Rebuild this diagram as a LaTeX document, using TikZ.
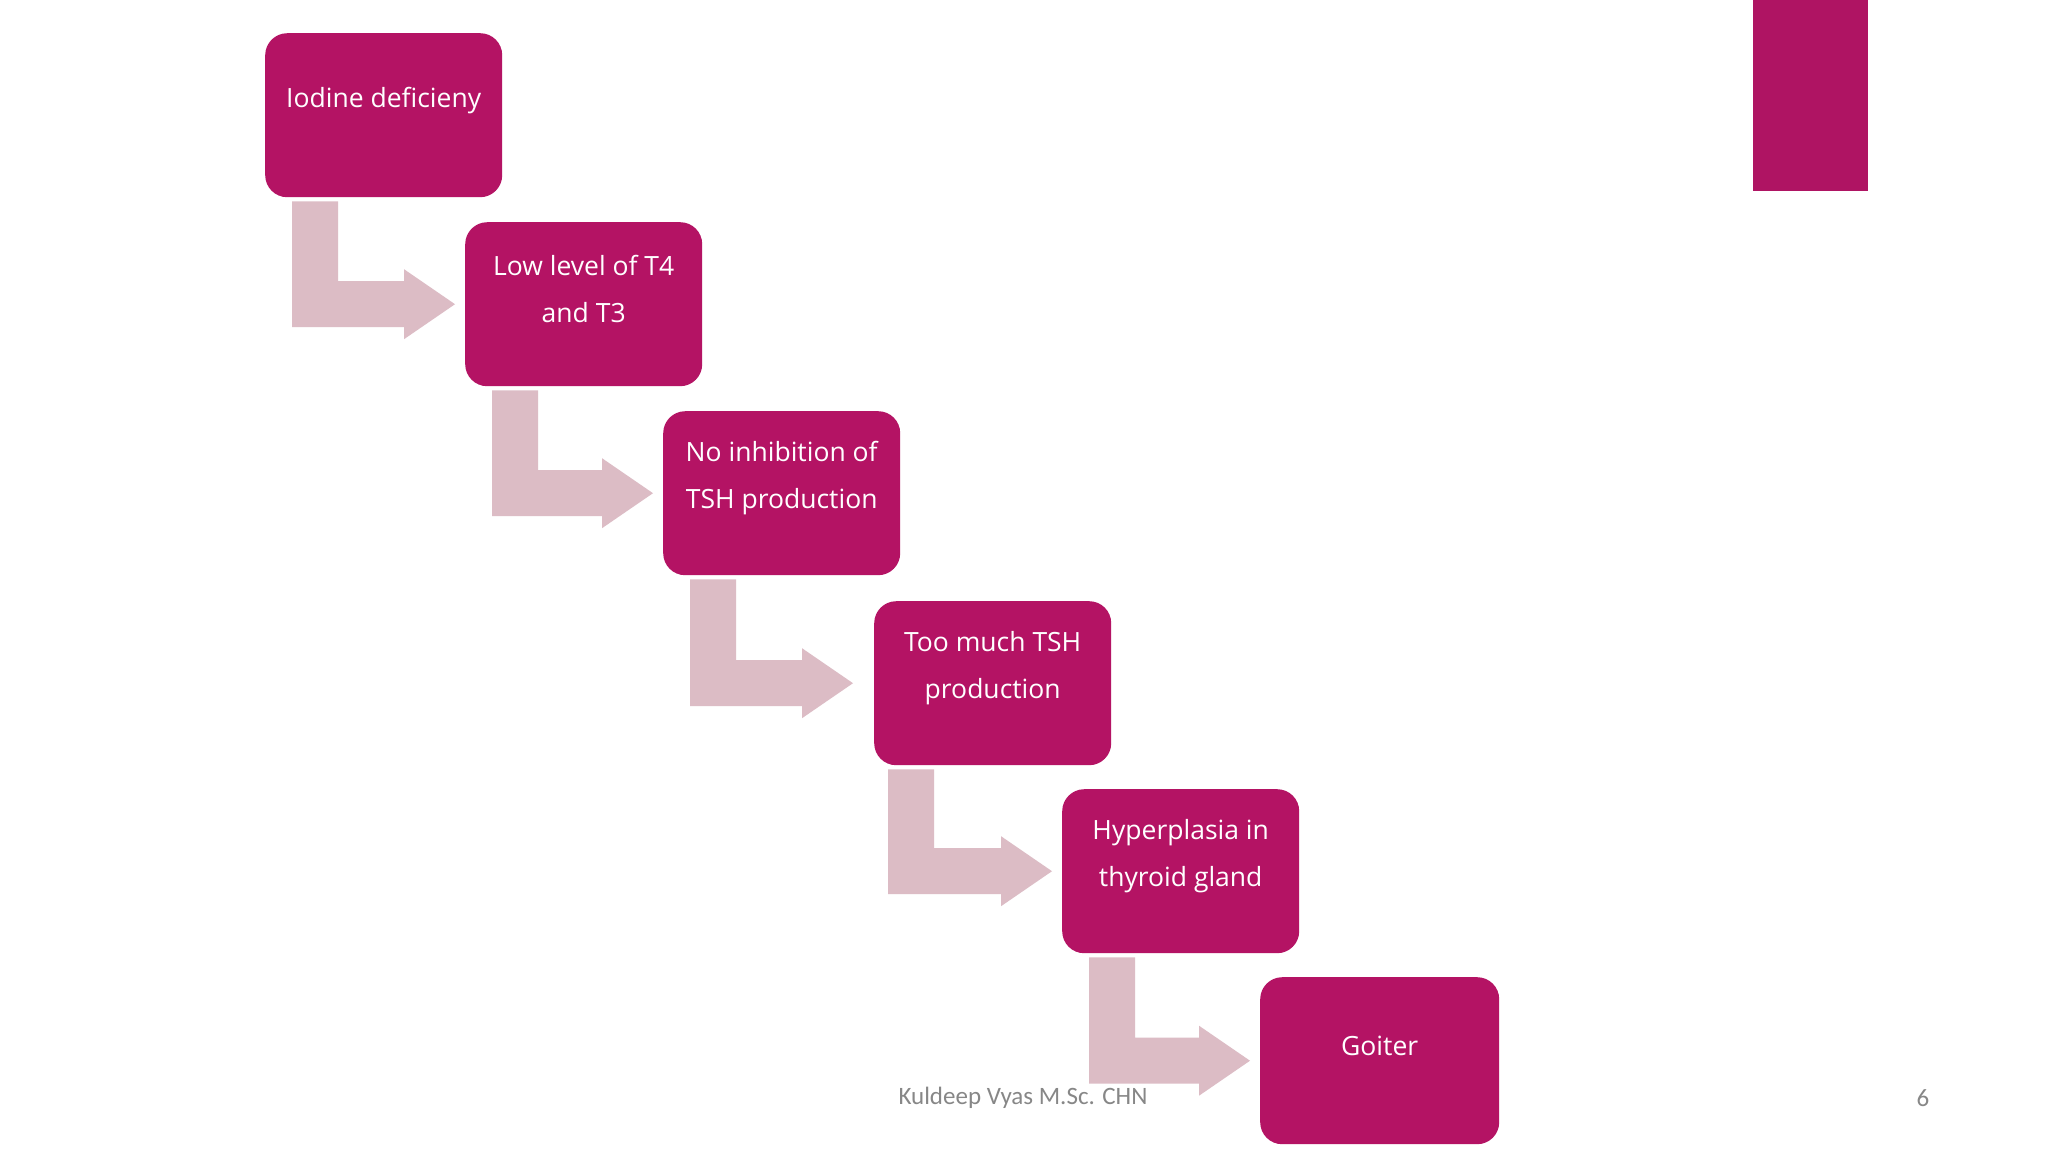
\documentclass[tikz,border=0pt]{standalone}
\usepackage{fontspec}
\setmainfont{Open Sans}
\newfontfamily\footfont{Carlito}
\usetikzlibrary{calc}
\definecolor{boxmag}{RGB}{180,19,100}
\definecolor{barmag}{RGB}{175,20,99}
\definecolor{arrowpink}{RGB}{220,188,197}
\definecolor{footgray}{RGB}{135,135,135}
\tikzset{
  stepbox/.style={draw=none, fill=boxmag, rounded corners=22pt, minimum width=237pt, minimum height=164pt, anchor=north west, inner sep=0pt},
  steptext/.style={text=white, font=\fontsize{26.5}{47}\selectfont, align=center, inner sep=0pt},
  foottext/.style={text=footgray, font=\footfont\fontsize{25}{30}\selectfont, inner sep=0pt}
}
% #1 from box, #2 to box, #3 shaft left offset, #4 gap before tip
\newcommand\bentarrow[4]{%
  \fill[arrowpink] let \p1=(#1.south west), \p2=(#2.west) in
    (\x1+#3pt,\y1-4pt) -- (\x1+#3pt+46pt,\y1-4pt) -- (\x1+#3pt+46pt,\y2+23pt) --
    (\x2-#4pt-51pt,\y2+23pt) -- (\x2-#4pt-51pt,\y2+35pt) -- (\x2-#4pt,\y2) --
    (\x2-#4pt-51pt,\y2-35pt) -- (\x2-#4pt-51pt,\y2-23pt) -- (\x1+#3pt,\y2-23pt) -- cycle;}
\begin{document}
\begin{tikzpicture}[x=1pt,y=-1pt]
\useasboundingbox[fill=white] (0,0) rectangle (2048,1152);
\fill[barmag] (1753,0) rectangle (1868,191);
\node[foottext] (foot) at (1023,1098) {Kuldeep Vyas M.Sc. CHN};
\node[foottext] (page) at (1923,1098) {6};
\node[stepbox] (b1) at (265,33) {};
\node[stepbox] (b2) at (465,222) {};
\node[stepbox] (b3) at (663,411) {};
\node[stepbox] (b4) at (874,601) {};
\node[stepbox] (b5) at (1062,789) {};
\node[stepbox, minimum width=239pt, minimum height=167pt] (b6) at (1260,977) {};
\node[steptext, yshift=15pt] (t1) at (b1.center) {Iodine deficieny};
\node[steptext, yshift=15pt] (t2) at (b2.center) {Low level of T4\\and T3};
\node[steptext, yshift=15pt] (t3) at (b3.center) {No inhibition of\\TSH production};
\node[steptext, yshift=15pt] (t4) at (b4.center) {Too much TSH\\production};
\node[steptext, yshift=15pt] (t5) at (b5.center) {Hyperplasia in\\thyroid gland};
\node[steptext, yshift=15pt] (t6) at (b6.center) {Goiter};
\bentarrow{b1}{b2}{27}{10}
\bentarrow{b2}{b3}{27}{10}
\bentarrow{b3}{b4}{27}{21}
\bentarrow{b4}{b5}{14}{10}
\bentarrow{b5}{b6}{27}{10}
\end{tikzpicture}
\end{document}
